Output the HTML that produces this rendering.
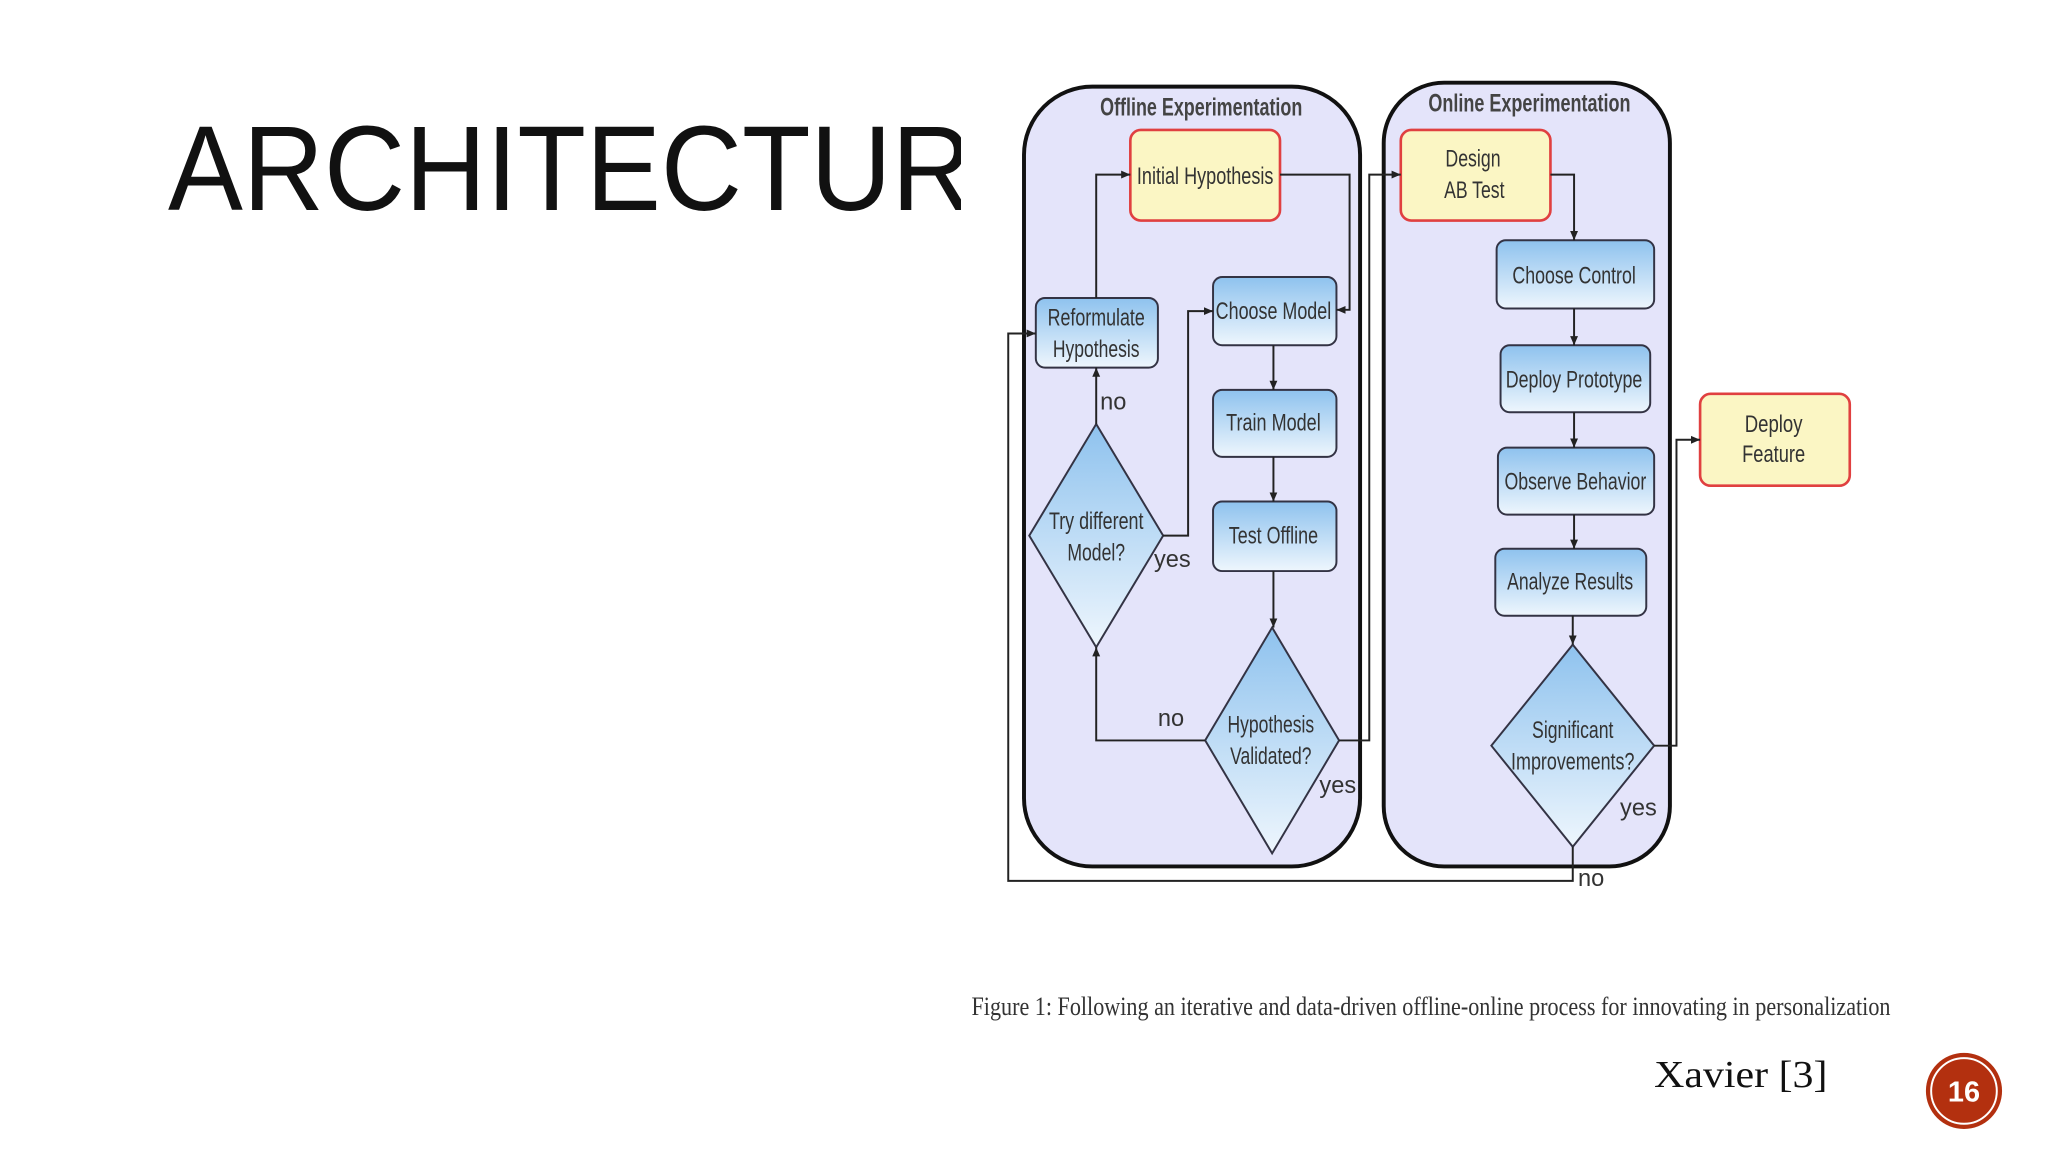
<!DOCTYPE html>
<html><head><meta charset="utf-8"><style>html,body{margin:0;padding:0;background:#fff;overflow:hidden}</style></head>
<body>
<svg width="2048" height="1152" viewBox="0 0 1560 877.5" xmlns="http://www.w3.org/2000/svg" font-family="Liberation Sans, sans-serif">
<defs>
<linearGradient id="bg" x1="0" y1="0" x2="0" y2="1"><stop offset="0" stop-color="#8ec2ee"/><stop offset="1" stop-color="#eef6fd"/></linearGradient>
<marker id="a" markerWidth="8" markerHeight="8" refX="7" refY="4" orient="auto" markerUnits="userSpaceOnUse"><path d="M0,1 L7,4 L0,7 z" fill="#222"/></marker>
<clipPath id="tc"><rect x="0" y="0" width="732" height="300"/></clipPath>
</defs>
<text x="128" y="160" font-size="92" fill="#111" clip-path="url(#tc)" textLength="670" lengthAdjust="spacingAndGlyphs">ARCHITECTURE</text>

<rect x="780" y="66" width="256" height="594" rx="52" fill="#e4e4fa" stroke="#111" stroke-width="3"/>
<rect x="1054" y="63" width="218" height="597" rx="46" fill="#e4e4fa" stroke="#111" stroke-width="3"/>
<g font-weight="bold" fill="#444" font-size="19">
<text x="915" y="88" text-anchor="middle" textLength="154" lengthAdjust="spacingAndGlyphs">Offline Experimentation</text>
<text x="1165" y="85" text-anchor="middle" textLength="154" lengthAdjust="spacingAndGlyphs">Online Experimentation</text>
</g>

<g stroke="#e04040" stroke-width="2" fill="#fbf6c4">
<rect x="861" y="99" width="114" height="69" rx="8"/>
<rect x="1067" y="99" width="114" height="69" rx="8"/>
<rect x="1295" y="300" width="114" height="70" rx="8"/>
</g>
<g stroke="#334" stroke-width="1.5" fill="url(#bg)">
<rect x="789" y="227" width="93" height="53" rx="7"/>
<rect x="924" y="211" width="94" height="52" rx="7"/>
<rect x="924" y="297" width="94" height="51" rx="7"/>
<rect x="924" y="382" width="94" height="53" rx="7"/>
<rect x="1140" y="183" width="120" height="52" rx="7"/>
<rect x="1143" y="263" width="114" height="51" rx="7"/>
<rect x="1141" y="341" width="119" height="51" rx="7"/>
<rect x="1139" y="418" width="115" height="51" rx="7"/>
<polygon points="835,323 886,408 835,493 784,408"/>
<polygon points="969,478 1020,564 969,650 918,564"/>
<polygon points="1198,491 1260,568 1198,645 1136,568"/>
</g>

<g stroke="#222" stroke-width="1.5" fill="none" marker-end="url(#a)">
<path d="M835,227 V133 H861"/>
<path d="M975,133 H1028 V236 H1018"/>
<path d="M970,263 V297"/>
<path d="M970,348 V382"/>
<path d="M970,435 V478"/>
<path d="M886,408 H905 V237 H924"/>
<path d="M835,323 V280"/>
<path d="M918,564 H835 V493"/>
<path d="M1020,564 H1043 V133 H1067"/>
<path d="M1181,133 H1199 V183"/>
<path d="M1199,235 V263"/>
<path d="M1199,314 V341"/>
<path d="M1199,392 V418"/>
<path d="M1198,469 V491"/>
<path d="M1260,568 H1277 V335 H1295"/>
<path d="M1198,645 V671 H768 V254 H789"/>
</g>

<g fill="#333" font-size="18" text-anchor="middle">
<text x="918" y="140" textLength="104" lengthAdjust="spacingAndGlyphs">Initial Hypothesis</text>
<text x="1122" y="127" textLength="42" lengthAdjust="spacingAndGlyphs">Design</text>
<text x="1123" y="151" textLength="46" lengthAdjust="spacingAndGlyphs">AB Test</text>
<text x="1351" y="329" textLength="44" lengthAdjust="spacingAndGlyphs">Deploy</text>
<text x="1351" y="352" textLength="48" lengthAdjust="spacingAndGlyphs">Feature</text>
<text x="835" y="248" textLength="74" lengthAdjust="spacingAndGlyphs">Reformulate</text>
<text x="835" y="272" textLength="66" lengthAdjust="spacingAndGlyphs">Hypothesis</text>
<text x="970" y="243" textLength="88" lengthAdjust="spacingAndGlyphs">Choose Model</text>
<text x="970" y="328" textLength="72" lengthAdjust="spacingAndGlyphs">Train Model</text>
<text x="970" y="414" textLength="68" lengthAdjust="spacingAndGlyphs">Test Offline</text>
<text x="1199" y="216" textLength="94" lengthAdjust="spacingAndGlyphs">Choose Control</text>
<text x="1199" y="295" textLength="104" lengthAdjust="spacingAndGlyphs">Deploy Prototype</text>
<text x="1200" y="373" textLength="108" lengthAdjust="spacingAndGlyphs">Observe Behavior</text>
<text x="1196" y="449" textLength="96" lengthAdjust="spacingAndGlyphs">Analyze Results</text>
<text x="835" y="403" textLength="72" lengthAdjust="spacingAndGlyphs">Try different</text>
<text x="835" y="427" textLength="44" lengthAdjust="spacingAndGlyphs">Model?</text>
<text x="968" y="558" textLength="66" lengthAdjust="spacingAndGlyphs">Hypothesis</text>
<text x="968" y="582" textLength="62" lengthAdjust="spacingAndGlyphs">Validated?</text>
<text x="1198" y="562" textLength="62" lengthAdjust="spacingAndGlyphs">Significant</text>
<text x="1198" y="586" textLength="94" lengthAdjust="spacingAndGlyphs">Improvements?</text>
<text x="848" y="312">no</text>
<text x="893" y="432">yes</text>
<text x="892" y="553">no</text>
<text x="1019" y="604">yes</text>
<text x="1248" y="621">yes</text>
<text x="1212" y="675">no</text>
</g>

<text x="740" y="773" font-family="Liberation Serif, serif" font-size="20" fill="#333" textLength="700" lengthAdjust="spacingAndGlyphs">Figure 1: Following an iterative and data-driven offline-online process for innovating in personalization</text>
<text x="1260" y="828" font-family="Liberation Serif, serif" font-size="29" fill="#111" textLength="132" lengthAdjust="spacingAndGlyphs">Xavier [3]</text>
<circle cx="1496" cy="831" r="29" fill="#b3300f"/>
<circle cx="1496" cy="831" r="25" fill="none" stroke="#fff" stroke-width="1.5"/>
<text x="1496" y="839" text-anchor="middle" font-size="22" font-weight="bold" fill="#fff">16</text>
</svg>
</body></html>
